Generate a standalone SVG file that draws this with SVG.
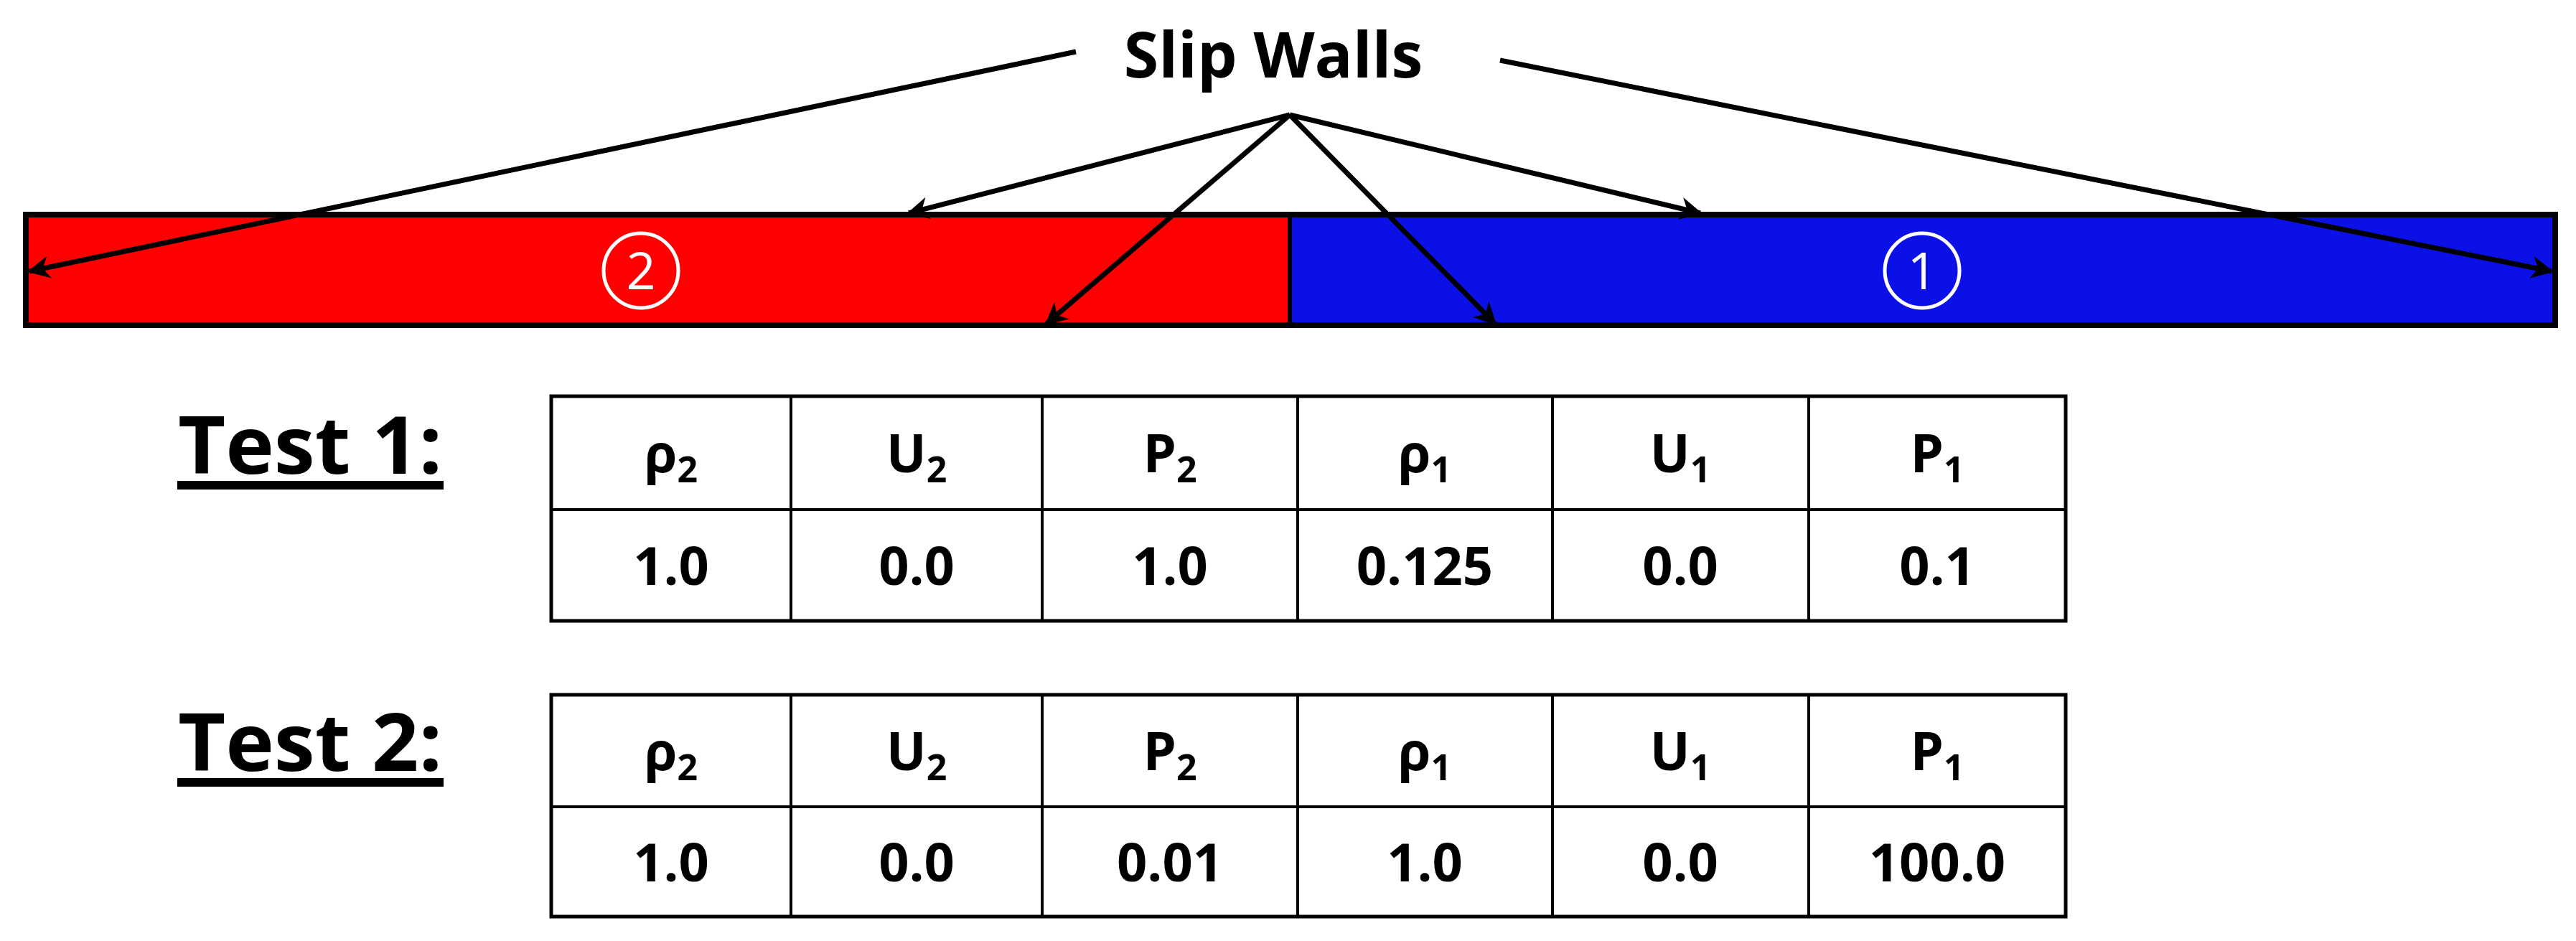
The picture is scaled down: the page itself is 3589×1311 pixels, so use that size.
<svg xmlns="http://www.w3.org/2000/svg" width="3589" height="1311" viewBox="0 0 3589 1311">
<defs>
<style>
text{font-family:"Open Sans","Liberation Sans",sans-serif;font-weight:bold;fill:#000}
.c{font-size:74px;text-anchor:middle}
.s{font-size:50px}
.grid{fill:#fff;stroke:#000;stroke-width:5}
.ln{stroke:#000;stroke-width:4}
.conn{stroke:#000;stroke-width:7;fill:none;marker-end:url(#ah)}
</style>
<marker id="ah" viewBox="0 0 10 10" refX="9" refY="5" markerWidth="4.5" markerHeight="4.5" orient="auto" markerUnits="strokeWidth"><path d="M0,0 L10,5 L0,10 L3,5 z" fill="#000"/></marker>
</defs>
<rect width="3589" height="1311" fill="#fff"/>
<g id="domain">
<rect x="36" y="299" width="1761" height="154" fill="#ff0000"/>
<rect x="1797" y="299" width="1763" height="154" fill="#0b10e6"/>
<rect x="36" y="299" width="3524" height="154" fill="none" stroke="#000" stroke-width="8"/>
<line x1="1797" y1="299" x2="1797" y2="453" stroke="#000" stroke-width="6"/>
<circle cx="893" cy="377" r="52" fill="none" stroke="#fff" stroke-width="5"/>
<text x="893" y="403" style="font-size:72px;fill:#fff;font-weight:normal" text-anchor="middle">2</text>
<circle cx="2678" cy="377" r="52" fill="none" stroke="#fff" stroke-width="5"/>
<text x="2678" y="403" style="font-size:72px;fill:#fff;font-weight:normal" text-anchor="middle">1</text>
</g>
<g id="label">
<text x="1774" y="108" style="font-size:88px" text-anchor="middle">Slip Walls</text>
</g>
<g id="connectors">
<line class="conn" x1="1499" y1="72" x2="41" y2="378"/>
<line class="conn" x1="2090" y1="84" x2="3555" y2="378"/>
<line class="conn" x1="1797" y1="160" x2="1266" y2="297"/>
<line class="conn" x1="1797" y1="160" x2="2369" y2="297"/>
<line class="conn" x1="1797" y1="160" x2="1458" y2="451"/>
<line class="conn" x1="1797" y1="160" x2="2083" y2="451"/>
</g>
<g id="test1">
<text x="432" y="660" style="font-size:112px" text-anchor="middle" textLength="368" lengthAdjust="spacingAndGlyphs">Test 1:</text>
<rect x="247" y="670" width="371" height="12" fill="#000"/>
<rect class="grid" x="768" y="552" width="2110" height="313"/>
<line class="ln" x1="768" y1="710" x2="2878" y2="710"/>
<line class="ln" x1="1102" y1="552" x2="1102" y2="865"/>
<line class="ln" x1="1452" y1="552" x2="1452" y2="865"/>
<line class="ln" x1="1808" y1="552" x2="1808" y2="865"/>
<line class="ln" x1="2163" y1="552" x2="2163" y2="865"/>
<line class="ln" x1="2520" y1="552" x2="2520" y2="865"/>
<text class="c" x="935" y="658">ρ<tspan class="s" dy="14">2</tspan></text>
<text class="c" x="1277" y="658">U<tspan class="s" dy="14">2</tspan></text>
<text class="c" x="1630" y="658">P<tspan class="s" dy="14">2</tspan></text>
<text class="c" x="1985" y="658">ρ<tspan class="s" dy="14">1</tspan></text>
<text class="c" x="2341" y="658">U<tspan class="s" dy="14">1</tspan></text>
<text class="c" x="2699" y="658">P<tspan class="s" dy="14">1</tspan></text>
<text class="c" x="935" y="815">1.0</text>
<text class="c" x="1277" y="815">0.0</text>
<text class="c" x="1630" y="815">1.0</text>
<text class="c" x="1985" y="815">0.125</text>
<text class="c" x="2341" y="815">0.0</text>
<text class="c" x="2699" y="815">0.1</text>
</g>
<g id="test2">
<text x="432" y="1074" style="font-size:112px" text-anchor="middle" textLength="368" lengthAdjust="spacingAndGlyphs">Test 2:</text>
<rect x="247" y="1084" width="371" height="12" fill="#000"/>
<rect class="grid" x="768" y="968" width="2110" height="309"/>
<line class="ln" x1="768" y1="1124" x2="2878" y2="1124"/>
<line class="ln" x1="1102" y1="968" x2="1102" y2="1277"/>
<line class="ln" x1="1452" y1="968" x2="1452" y2="1277"/>
<line class="ln" x1="1808" y1="968" x2="1808" y2="1277"/>
<line class="ln" x1="2163" y1="968" x2="2163" y2="1277"/>
<line class="ln" x1="2520" y1="968" x2="2520" y2="1277"/>
<text class="c" x="935" y="1073">ρ<tspan class="s" dy="14">2</tspan></text>
<text class="c" x="1277" y="1073">U<tspan class="s" dy="14">2</tspan></text>
<text class="c" x="1630" y="1073">P<tspan class="s" dy="14">2</tspan></text>
<text class="c" x="1985" y="1073">ρ<tspan class="s" dy="14">1</tspan></text>
<text class="c" x="2341" y="1073">U<tspan class="s" dy="14">1</tspan></text>
<text class="c" x="2699" y="1073">P<tspan class="s" dy="14">1</tspan></text>
<text class="c" x="935" y="1228">1.0</text>
<text class="c" x="1277" y="1228">0.0</text>
<text class="c" x="1630" y="1228">0.01</text>
<text class="c" x="1985" y="1228">1.0</text>
<text class="c" x="2341" y="1228">0.0</text>
<text class="c" x="2699" y="1228">100.0</text>
</g>
</svg>
